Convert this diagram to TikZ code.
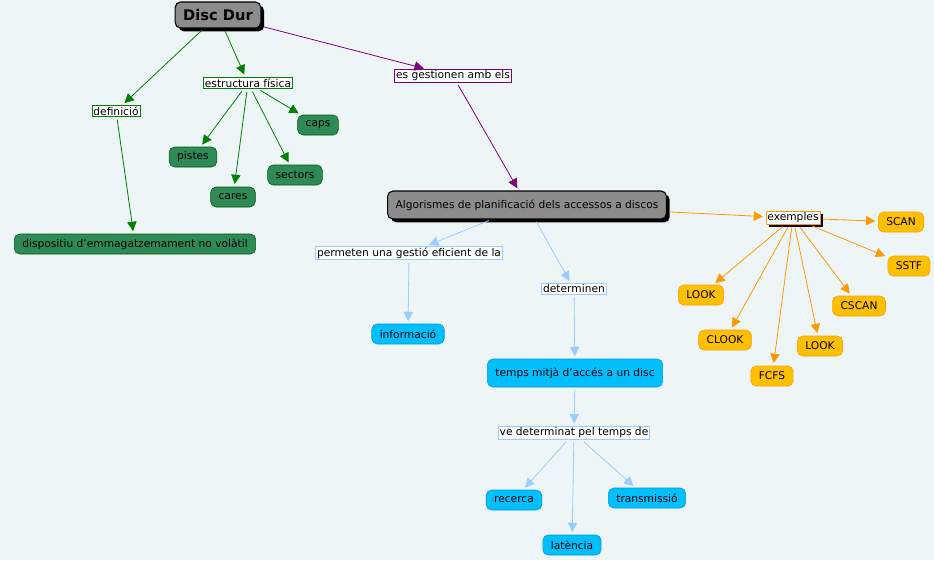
\documentclass[tikz,border=0pt]{standalone}
\usepackage{fontspec}
\setmainfont{DejaVu Sans}
\usetikzlibrary{arrows.meta,shadows}
\definecolor{bg}{HTML}{EEF5F7}
\definecolor{gfill}{HTML}{2E8B57}
\definecolor{gline}{HTML}{008000}
\definecolor{purp}{HTML}{800080}
\definecolor{ora}{HTML}{FF9900}
\definecolor{ofill}{HTML}{FFC000}
\definecolor{cfill}{HTML}{00BFFF}
\definecolor{lblue}{HTML}{99CCFF}
\begin{document}
\begin{tikzpicture}[x=0.75pt,y=-0.75pt,font=\fontsize{8}{9}\selectfont,
  concept/.style={rounded corners=4pt,draw,inner xsep=6pt,minimum height=20pt*0.75},
  gray/.style={concept,fill=black!45,draw=black,line width=0.8pt,drop shadow={shadow xshift=2.5pt,shadow yshift=-2.5pt,fill=black,opacity=1}},
  green/.style={concept,fill=gfill,draw=gline!70!black},
  orange/.style={concept,fill=ofill,draw=ora},
  cyan/.style={concept,fill=cfill,draw=cfill!80!black},
  link/.style={draw,fill=white,inner sep=1pt,line width=0.6pt},
  ar/.style={-{Triangle[length=7pt,width=7pt]},line width=0.6pt,shorten <=2pt,shorten >=2pt},
  ga/.style={ar,gline}, pa/.style={ar,purp}, oa/.style={ar,ora}, ba/.style={ar,lblue}]
\fill[bg] (0,0) rectangle (934,560);
\useasboundingbox (0,0) rectangle (934,560);
\node[gray,font=\fontsize{11}{12}\selectfont\bfseries,minimum height=26pt*0.75] (disc) at (218,15) {Disc Dur};
\node[link,draw=gline] (def) at (116,111) {definició};
\node[link,draw=gline] (est) at (248,83) {estructura física};
\node[link,draw=purp] (ges) at (453,76) {es gestionen amb els };
\node[green] (caps) at (318,125) {caps};
\node[green] (pistes) at (193,157) {pistes};
\node[green] (cares) at (233,197) {cares};
\node[green] (sectors) at (295,175) {sectors};
\node[green] (disp) at (135,244) {dispositiu d'emmagatzemament no volàtil};
\node[gray,minimum height=28pt*0.75] (alg) at (527,205) {Algorismes de planificació dels accessos a discos};
\node[link,draw=ora,drop shadow={shadow xshift=2pt,shadow yshift=-2pt,fill=black,opacity=1}] (ex) at (793,218) {exemples};
\node[orange] (scan) at (901,222) {SCAN};
\node[orange] (sstf) at (909,266) {SSTF};
\node[orange] (look) at (701,295) {LOOK};
\node[orange] (cscan) at (859,306) {CSCAN};
\node[orange] (clook) at (725,340) {CLOOK};
\node[orange] (look2) at (820,346) {LOOK};
\node[orange] (fcfs) at (772,376) {FCFS};
\node[link,draw=lblue] (perm) at (409,253) {permeten una gestió eficient de la};
\node[link,draw=lblue] (det) at (574,289) {determinen};
\node[cyan] (inf) at (408,334) {informació};
\node[cyan,minimum height=28pt*0.75] (temps) at (575,373) {temps mitjà d'accés a un disc};
\node[link,draw=lblue] (ve) at (574,433) {ve determinat pel temps de};
\node[cyan] (rec) at (514,500) {recerca};
\node[cyan] (tra) at (647,498) {transmissió};
\node[cyan] (lat) at (572,545) {latència};
\draw[ga] (disc) -- (def);
\draw[ga] (disc) -- (est);
\draw[pa] (disc) -- (ges);
\draw[ga] (def) -- (disp);
\draw[ga] (est) -- (caps);
\draw[ga] (est) -- (pistes);
\draw[ga] (est) -- (cares);
\draw[ga] (est) -- (sectors);
\draw[pa] (ges) -- (alg);
\draw[oa] (alg) -- (ex);
\foreach \t in {scan,sstf,look,cscan,clook,look2,fcfs} \draw[oa] (ex) -- (\t);
\draw[ba] (alg) -- (perm);
\draw[ba] (alg) -- (det);
\draw[ba] (perm) -- (inf);
\draw[ba] (det) -- (temps);
\draw[ba] (temps) -- (ve);
\draw[ba] (ve) -- (rec);
\draw[ba] (ve) -- (tra);
\draw[ba] (ve) -- (lat);
\end{tikzpicture}
\end{document}
